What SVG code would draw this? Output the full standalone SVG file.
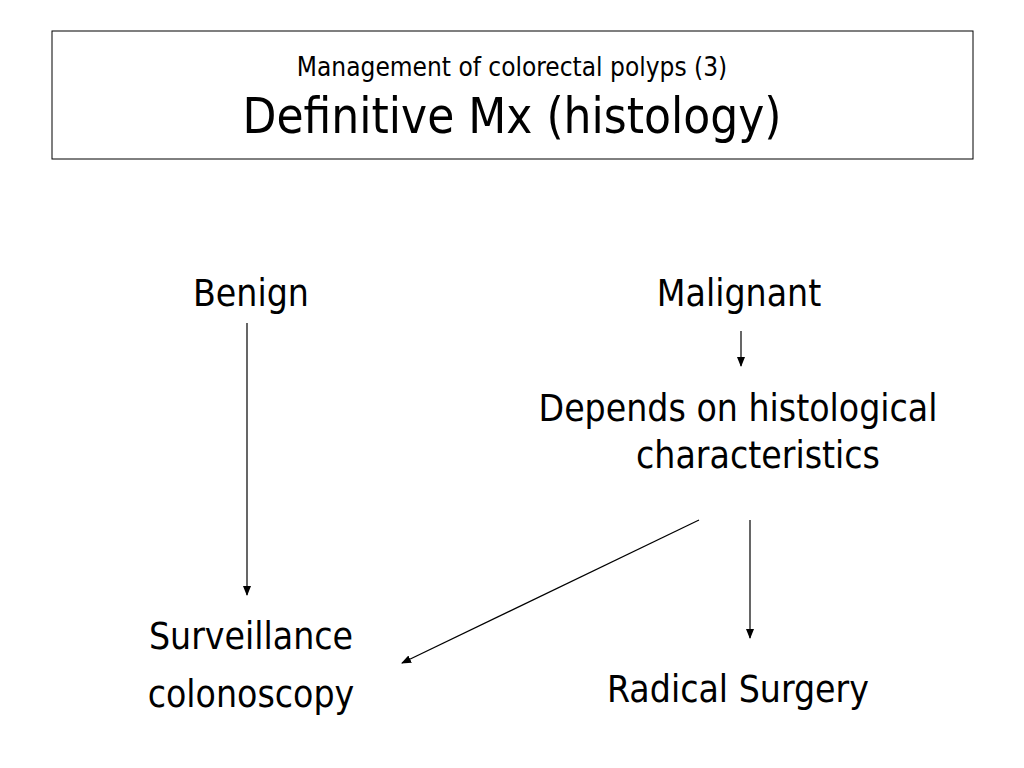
<svg xmlns="http://www.w3.org/2000/svg" width="1024" height="768" viewBox="0 0 1024 768">
<defs><marker id="a" markerWidth="10" markerHeight="8" refX="9" refY="4" orient="auto" markerUnits="userSpaceOnUse"><path d="M0,0 L10,4 L0,8 Z" fill="#000"/></marker></defs>
<style>text{font-family:"DejaVu Sans Condensed","DejaVu Sans",sans-serif;fill:#000;text-anchor:middle}.n{font-size:37px}line{stroke:#000;stroke-width:1.2;marker-end:url(#a)}</style>
<rect width="1024" height="768" fill="#fff"/>
<g id="title"><rect x="52" y="31" width="921" height="128" fill="#fff" stroke="#000" stroke-width="1"/>
<text x="512" y="76" font-size="26">Management of colorectal polyps (3)</text>
<text x="512" y="133" font-size="49">Definitive Mx (histology)</text></g>
<g id="benign"><text class="n" x="251" y="306">Benign</text></g>
<g id="malignant"><text class="n" x="739" y="306">Malignant</text></g>
<g id="depends"><text class="n" x="738" y="421">Depends on histological</text><text class="n" x="758" y="468">characteristics</text></g>
<g id="surv"><text class="n" x="251" y="649">Surveillance</text><text class="n" x="251" y="707">colonoscopy</text></g>
<g id="radical"><text class="n" x="738" y="702">Radical Surgery</text></g>
<g id="connectors">
<line x1="247" y1="323" x2="247" y2="595"/>
<line x1="741" y1="331" x2="741" y2="366"/>
<line x1="699" y1="520" x2="402" y2="663"/>
<line x1="750" y1="520" x2="750" y2="638"/>
</g>
</svg>
